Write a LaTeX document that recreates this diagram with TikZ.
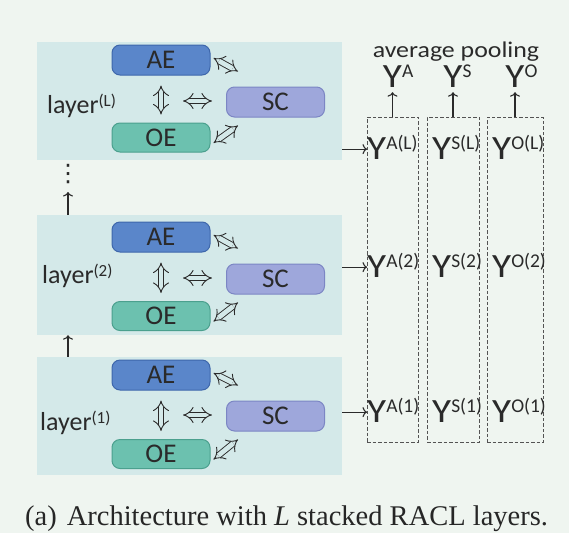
\documentclass[tikz,border=0pt]{standalone}
\usepackage{fontspec}
\setmainfont{Liberation Serif}
\newfontfamily\calb{Carlito}
\newfontfamily\calw{Carlito}[FakeStretch=1.15]
\newfontfamily\dvs{DejaVu Sans}
\usetikzlibrary{arrows.meta}
\definecolor{bg}{HTML}{EFF5F0}
\definecolor{layerfill}{HTML}{D4E9E9}
\definecolor{aefill}{HTML}{5A86CA}
\definecolor{aedraw}{HTML}{3E67AB}
\definecolor{scfill}{HTML}{9EA7DB}
\definecolor{scdraw}{HTML}{7C86C4}
\definecolor{oefill}{HTML}{6CC1AF}
\definecolor{oedraw}{HTML}{4BA08E}
\definecolor{ink}{HTML}{2A2A2A}
\newcommand{\Ysup}[1]{{\calw\fontsize{34}{34}\selectfont Y}\rlap{\raisebox{9.5pt}{\calb\fontsize{19.5}{19.5}\selectfont #1}}}
\begin{document}
\begin{tikzpicture}[x=1pt,y=-1pt,
  layerbox/.style={fill=layerfill, draw=none, inner sep=0, minimum width=305pt},
  inbox/.style={rounded corners=8pt, line width=1pt, minimum width=98pt, minimum height=30pt, inner sep=0,
    font=\calb\fontsize{27}{27}\selectfont, text=ink},
  aebox/.style={inbox, fill=aefill, draw=aedraw},
  scbox/.style={inbox, fill=scfill, draw=scdraw},
  oebox/.style={inbox, fill=oefill, draw=oedraw, minimum height=29pt},
  lab/.style={anchor=base west, inner sep=0, text=ink, font=\calb\fontsize{26}{26}\selectfont},
  ylab/.style={inner sep=0, text=ink},
  dbl/.style={draw=ink, line width=0.9pt, double=layerfill, double distance=4.8pt, {Implies[length=5.5pt]}-{Implies[length=5.5pt]}},
  arr/.style={draw=ink, line width=1.1pt, -{To[length=4.5pt,width=10pt]}},
  colbox/.style={draw=gray!65!black, line width=0.9pt, dash pattern=on 3.5pt off 2pt, inner sep=0, minimum height=325pt}
]
\fill[bg] (0,0) rectangle (569,533);
\useasboundingbox (0,0) rectangle (569,533);

% dashed columns
\node[colbox, minimum width=51pt] (colA) at (392.5,279.5) {};
\node[colbox, minimum width=52pt] (colS) at (453,279.5) {};
\node[colbox, minimum width=56pt] (colO) at (515,279.5) {};

% layers
\foreach \n/\ty/\hh/\ya/\ysc/\yoe/\lx/\lb/\s/\yb in
  {3/42/118/60/102/137.5/47/113/L/159, 2/215/120/237/279/316/42/283/2/277, 1/357/118/375/416/454/40/430/1/422}{
  \node[layerbox, minimum height=\hh pt] (L\n) at (189.5,{\ty+\hh/2}) {};
  \node[aebox] (ae\n) at (161,\ya) {AE};
  \node[scbox] (sc\n) at (275.5,\ysc) {SC};
  \node[oebox] (oe\n) at (161,\yoe) {OE};
  \node[lab] (lab\n) at (\lx,\lb) {layer\raisebox{7pt}{\fontsize{17}{17}\selectfont(\s)}};
  \draw[dbl, shorten <=10pt, shorten >=8pt] (ae\n.south) -- (oe\n.north);
  \draw[dbl] ([xshift=-43pt,yshift=1pt]sc\n.west) -- ([xshift=-14pt,yshift=1pt]sc\n.west);
  \draw[dbl] ([shift={(3pt,2pt)}]ae\n.east) -- ([shift={(12pt,15pt)}]sc\n.north west);
  \draw[dbl] ([shift={(3pt,-5.5pt)}]oe\n.east) -- ([shift={(12pt,-8pt)}]sc\n.south west);
  % outputs
  \node[ylab, anchor=base west] (yA\n) at (367,\yb) {\Ysup{A(\s)}};
  \node[ylab, anchor=base west] (yS\n) at (432,\yb) {\Ysup{S(\s)}};
  \node[ylab, anchor=base west] (yO\n) at (492,\yb) {\Ysup{O(\s)}};
  \path ([yshift=-2pt]yA\n.west) coordinate (in\n);
  \draw[arr] (in\n -| L\n.east) -- (in\n);
}

% pooled outputs
\node[ylab, anchor=base] (tA) at (392.5,87) {\Ysup{A}};
\node[ylab, anchor=base] (tS) at (453,87) {\Ysup{S}};
\node[ylab, anchor=base] (tO) at (515,87) {\Ysup{O}};
\node[anchor=base, inner sep=0, text=ink, font=\calw\fontsize{22.5}{22.5}\selectfont] (avg) at (456,57) {average pooling};
\draw[arr, shorten >=5pt] (colA.north) -- (colA.north |- tA.south);
\draw[arr, shorten >=5pt] (colS.north) -- (colS.north |- tS.south);
\draw[arr, shorten >=5pt] (colO.north) -- (colO.north |- tO.south);

% stacking arrows and dots
\node[inner sep=0, text=ink, font=\dvs\fontsize{24}{24}\selectfont] (dots) at (68,174) {⋮};
\draw[arr] (L1.north -| dots) -- (L2.south -| dots);
\draw[arr] (L2.north -| dots) -- ([yshift=-18pt]dots.center);

% caption
\node[anchor=base west, inner sep=0, text=black!85, font=\fontsize{28.5}{28.5}\selectfont] (cap) at (25,525)
  {(a)\hspace{10pt}Architecture with \textit{L} stacked RACL layers.};
\end{tikzpicture}
\end{document}
